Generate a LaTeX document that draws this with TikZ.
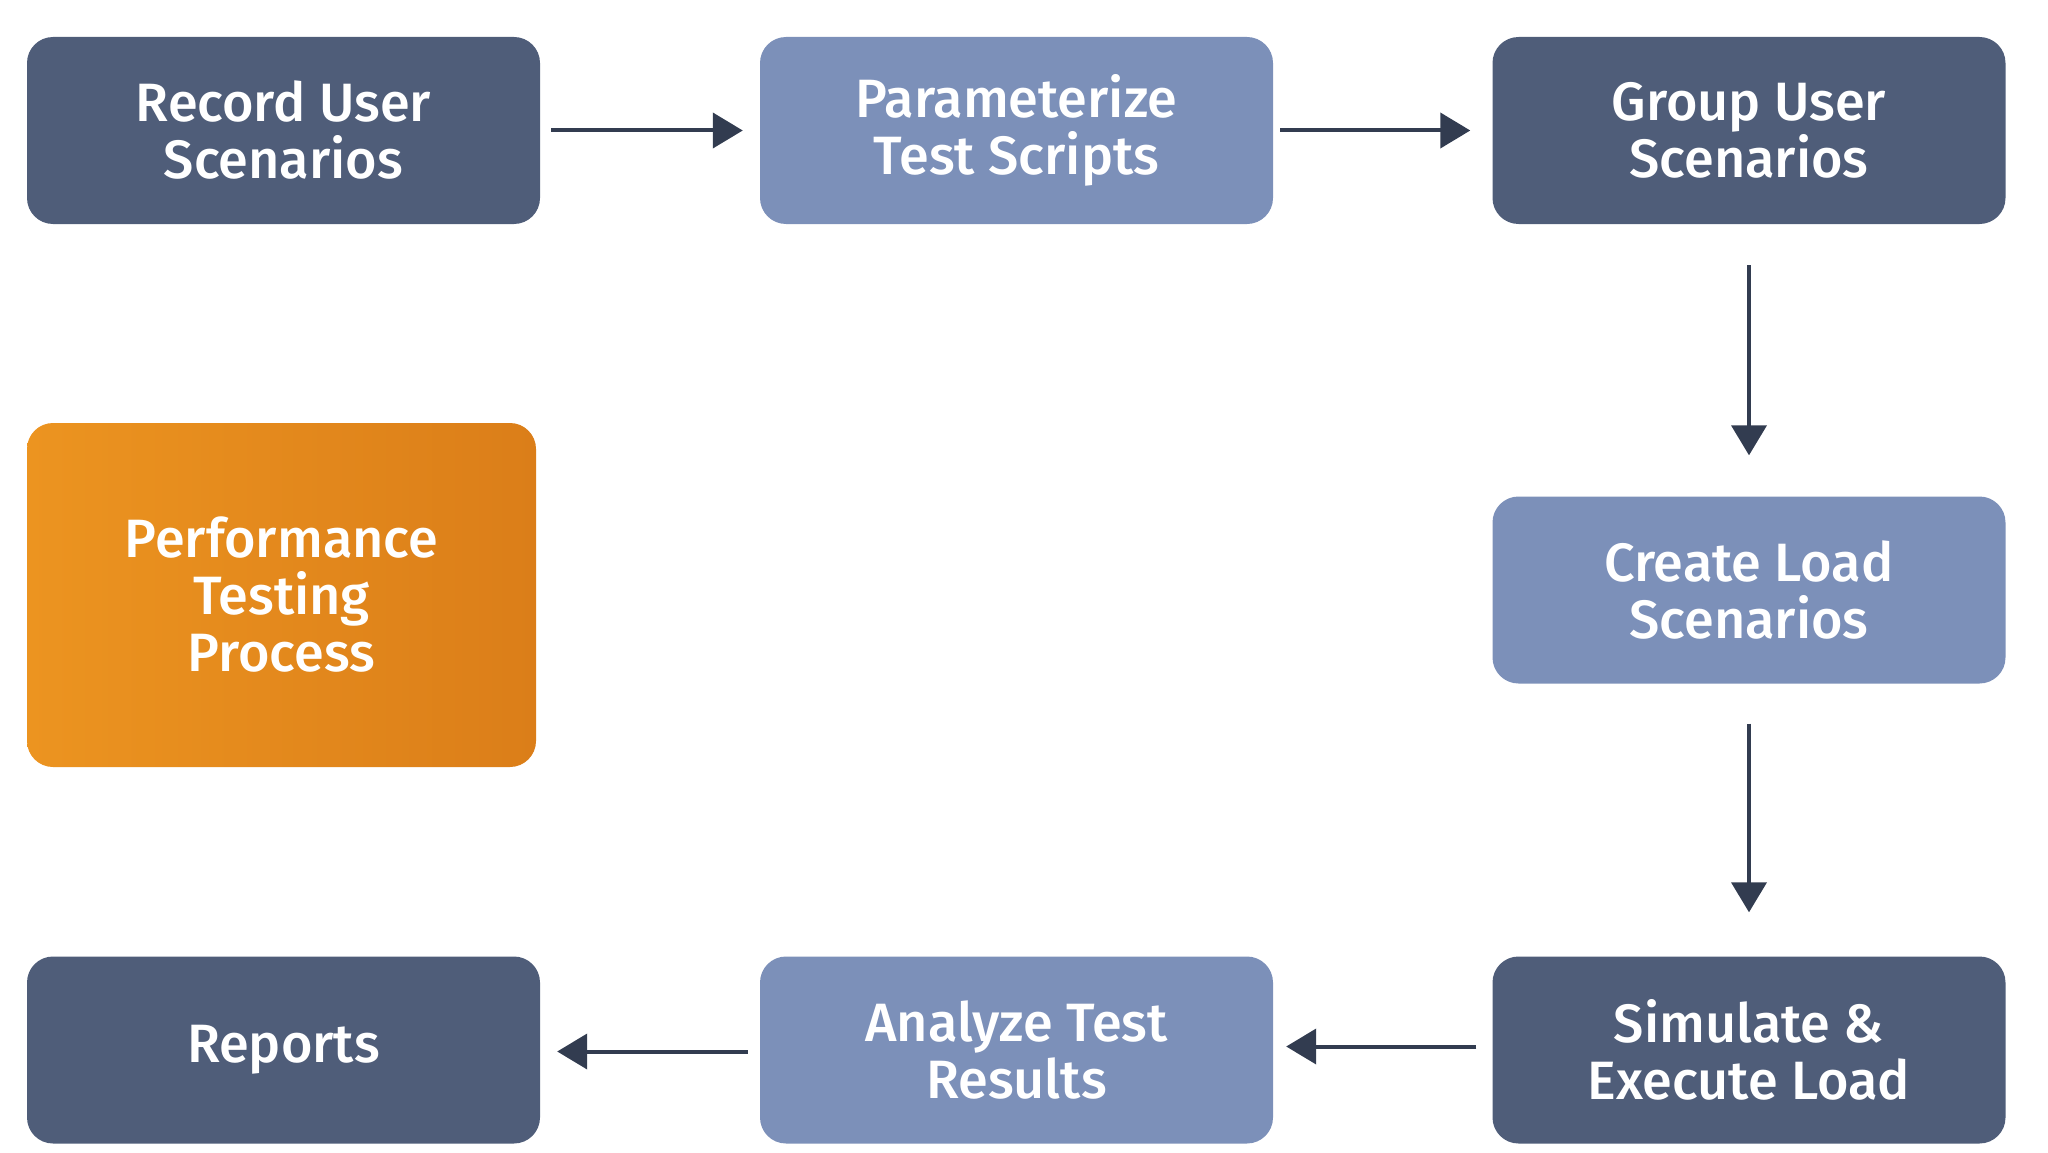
\documentclass[tikz,border=0pt]{standalone}
\usepackage{fontspec}
\setmainfont{Fira Sans}[UprightFont={* Medium},BoldFont={* SemiBold}]
\usetikzlibrary{arrows.meta,shadings}
\definecolor{darkbox}{HTML}{4F5D79}
\definecolor{lightbox}{HTML}{7C90B9}
\definecolor{orangeA}{HTML}{EC9420}
\definecolor{orangeB}{HTML}{DB7E19}
\definecolor{arrowc}{HTML}{323C50}
\begin{document}
\begin{tikzpicture}[x=1pt,y=-1pt,
  box/.style={rounded corners=26pt,minimum width=513pt,minimum height=187pt,
    text=white,align=center,font=\fontsize{54}{57}\selectfont,inner sep=0pt},
  darkstep/.style={box,fill=darkbox},
  lightstep/.style={box,fill=lightbox},
  conn/.style={draw=arrowc,line width=4pt,-{Triangle[length=30pt,width=35pt]}}
]
\useasboundingbox (0,0) rectangle (2048,1153);
\node[darkstep]  (rec) at (283.5,130.5) {Record User\\Scenarios};
\node[lightstep] (par) at (1016.5,130.5) {Parameterize\\Test Scripts};
\node[darkstep]  (grp) at (1749,130.5) {Group User\\Scenarios};
\node[lightstep] (cre) at (1749,590) {Create Load\\Scenarios};
\node[darkstep]  (sim) at (1749,1050) {Simulate \&\\Execute Load};
\node[lightstep] (ana) at (1016.5,1050) {Analyze Test\\Results};
\node[darkstep]  (rep) at (283.5,1050) {Reports};
\node[box,minimum width=509pt,minimum height=344pt,shading=axis,shading angle=60,left color=orangeA,right color=orangeB] (ptp) at (281.5,595) {Performance\\Testing\\Process};
\draw[conn,shorten <=11pt,shorten >=17pt] (rec.east) -- (par.west);
\draw[conn,shorten <=7pt,shorten >=22pt] (par.east) -- (grp.west);
\draw[conn,shorten <=41pt,shorten >=41pt] (grp.south) -- (cre.north);
\draw[conn,shorten <=40pt,shorten >=44pt] (cre.south) -- (sim.north);
\draw[conn,shorten <=16pt,shorten >=13pt] ([yshift=3.5pt]sim.west) -- ([yshift=3.5pt]ana.east);
\draw[conn,shorten <=12pt,shorten >=17pt] ([yshift=-1.5pt]ana.west) -- ([yshift=-1.5pt]rep.east);
\end{tikzpicture}
\end{document}
